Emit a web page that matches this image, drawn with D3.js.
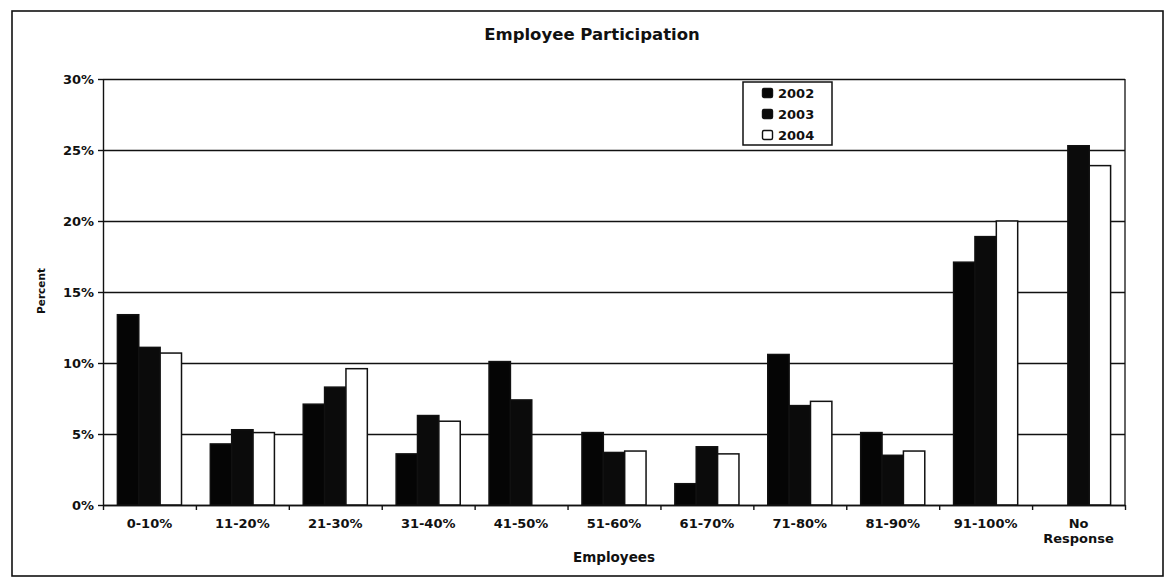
<!DOCTYPE html>
<html>
<head>
<meta charset="utf-8">
<script src="https://cdnjs.cloudflare.com/ajax/libs/d3/7.8.5/d3.min.js"></script>
<style>
  body { margin: 0; background: #fff; }
  svg text { font-family: 'DejaVu Sans', sans-serif; font-weight: bold; fill: #111; }
</style>
</head>
<body>
<svg id="chart" width="1170" height="583"></svg>
<script>
const categories = ['0-10%', '11-20%', '21-30%', '31-40%', '41-50%', '51-60%',
  '61-70%', '71-80%', '81-90%', '91-100%', 'No Response'];
const years = ['2002', '2003', '2004'];
// percent of respondents (null = no bar)
const values2002 = [13.4, 4.3, 7.1, 3.6, 10.1, 5.1, 1.5, 10.6, 5.1, 17.1, null];
const values2003 = [11.1, 5.3, 8.3, 6.3, 7.4, 3.7, 4.1, 7.0, 3.5, 18.9, 25.3];
const values2004 = [10.7, 5.1, 9.6, 5.9, null, 3.8, 3.6, 7.3, 3.8, 20.0, 23.9];
const yTicks = [0, 5, 10, 15, 20, 25, 30];

const seriesColors = {
  2002: '#050505',
  2003: '#0b0b0b',
  2004: '#ffffff'
};

const margin = {
  top: 79,
  right: 45,
  bottom: 78,
  left: 103
};
const svg = d3.select('#chart');
const fullWidth = +svg.attr('width');
const fullHeight = +svg.attr('height');
const width = fullWidth - margin.left - margin.right;
const height = fullHeight - margin.top - margin.bottom;

const rows = categories.map((c, i) => ({
  category: c,
  values: [values2002[i], values2003[i], values2004[i]]
}));

// outer frame
svg.append('rect')
  .attr('x', 12)
  .attr('y', 11)
  .attr('width', 1151)
  .attr('height', 565)
  .attr('fill', 'none')
  .attr('stroke', '#111')
  .attr('stroke-width', 1.6);

svg.append('text')
  .attr('x', 592)
  .attr('y', 40)
  .attr('text-anchor', 'middle')
  .style('font-size', '16.5px')
  .text('Employee Participation');

const g = svg.append('g')
  .attr('transform', `translate(${margin.left},${margin.top})`);

const x0 = d3.scaleBand()
  .domain(categories)
  .range([0, width])
  .paddingInner(0.31)
  .paddingOuter(0.155);

const x1 = d3.scaleBand()
  .domain(years)
  .range([0, x0.bandwidth()]);

// category boundaries for the tick marks
const xEdge = d3.scaleLinear()
  .domain([0, categories.length])
  .range([0, width]);

const y = d3.scaleLinear()
  .domain([0, 30])
  .range([height, 0]);

// gridlines
g.append('g')
  .attr('class', 'grid')
  .call(d3.axisLeft(y).tickValues(yTicks).tickSize(-width).tickFormat(''))
  .call(s => s.select('.domain').remove())
  .selectAll('line')
  .attr('stroke', '#111')
  .attr('stroke-width', 1.3);

// plot area right edge
g.append('line')
  .attr('x1', width)
  .attr('x2', width)
  .attr('y1', 0)
  .attr('y2', height)
  .attr('stroke', '#111')
  .attr('stroke-width', 1.3);

const groups = g.selectAll('.cat')
  .data(rows)
  .enter()
  .append('g')
  .attr('class', 'cat')
  .attr('transform', d => `translate(${x0(d.category)},0)`);

groups.selectAll('rect')
  .data(d => d.values.map((v, i) => ({ year: years[i], value: v })).filter(e => e.value !== null))
  .enter()
  .append('rect')
  .attr('x', d => x1(d.year))
  .attr('y', d => y(d.value))
  .attr('width', x1.bandwidth())
  .attr('height', d => height - y(d.value))
  .attr('fill', d => seriesColors[d.year])
  .attr('stroke', '#111')
  .attr('stroke-width', 1.5);

// y axis
const yAxis = d3.axisLeft(y)
  .tickValues(yTicks)
  .tickSize(5)
  .tickSizeOuter(0)
  .tickPadding(4)
  .tickFormat(d => `${d}%`);

g.append('g')
  .attr('class', 'yaxis')
  .call(yAxis)
  .call(s => s.selectAll('path, line').attr('stroke', '#111').attr('stroke-width', 1.4))
  .call(s => s.selectAll('text').style('font-size', '13px').attr('fill', '#111'));

// x axis: boundary ticks
g.append('g')
  .attr('transform', `translate(0,${height})`)
  .call(d3.axisBottom(xEdge).ticks(categories.length).tickSize(5).tickSizeOuter(0).tickFormat(''))
  .call(s => s.selectAll('path, line').attr('stroke', '#111').attr('stroke-width', 1.4));

// x axis: category labels
g.append('g')
  .attr('class', 'xaxis')
  .attr('transform', `translate(0,${height})`)
  .call(d3.axisBottom(x0).tickSize(0).tickPadding(14))
  .call(s => s.select('.domain').remove())
  .call(s => s.selectAll('text')
    .style('font-size', '13px')
    .attr('fill', '#111')
    .each(function (d) {
      const words = d.split(' ');
      if (words.length > 1) {
        const t = d3.select(this).text('');
        words.forEach((w, i) => {
          t.append('tspan')
            .attr('x', 0)
            .attr('dy', i === 0 ? '0.71em' : '1.15em')
            .text(w);
        });
        t.attr('dy', null);
      }
    }));

svg.append('text')
  .attr('x', margin.left + width / 2)
  .attr('y', 562)
  .attr('text-anchor', 'middle')
  .style('font-size', '13.5px')
  .text('Employees');

svg.append('text')
  .attr('transform', 'translate(45,291) rotate(-90)')
  .attr('text-anchor', 'middle')
  .style('font-size', '10.5px')
  .text('Percent');

// legend
const legend = svg.append('g')
  .attr('transform', 'translate(743,82)');

legend.append('rect')
  .attr('width', 89)
  .attr('height', 63)
  .attr('fill', '#fff')
  .attr('stroke', '#111')
  .attr('stroke-width', 1.5);

const items = legend.selectAll('.item')
  .data(years)
  .enter()
  .append('g')
  .attr('class', 'item')
  .attr('transform', (d, i) => `translate(19,${11 + i * 21})`);

items.append('rect')
  .attr('x', 0.5)
  .attr('y', -4.5)
  .attr('width', 10)
  .attr('height', 9)
  .attr('rx', 1.5)
  .attr('fill', d => seriesColors[d])
  .attr('stroke', '#111')
  .attr('stroke-width', 1.4);

items.append('text')
  .attr('x', 16)
  .attr('y', 4.7)
  .style('font-size', '13px')
  .text(d => d);
</script>
</body>
</html>
